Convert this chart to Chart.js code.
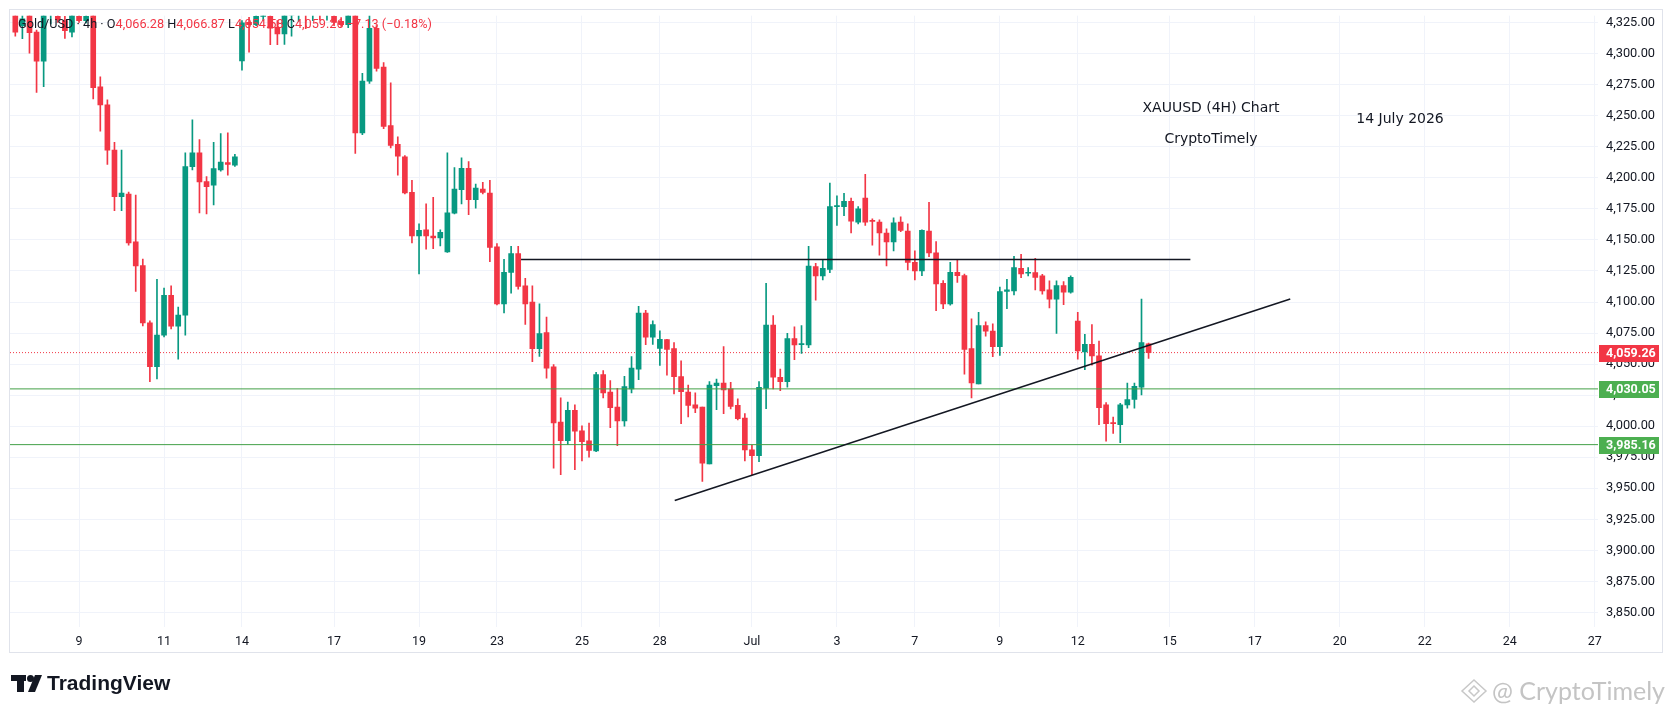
<!DOCTYPE html>
<html>
<head>
<meta charset="utf-8">
<script src="https://cdn.jsdelivr.net/npm/chart.js@4.4.1/dist/chart.umd.min.js"></script>
<style>
  html,body{margin:0;padding:0;background:#fff;}
  #wrap{width:1672px;height:714px;position:relative;}
</style>
</head>
<body>
<div id="wrap"><canvas id="c" width="1672" height="714"></canvas></div>
<script>
// ---- DATA ----
const opens = [4338,4322.6,4334,4317.3,4293.9,4336,4330,4326.6,4317.3,4330,4326.6,4336,4273.4,4258.8,4222.3,4184.8,4187,4148.4,4129.3,4083.2,
4047.9,4073.4,4105.3,4080.6,4089.4,4209.1,4220.2,4197.1,4194.1,4206.4,4212.3,4210.3,4294.1,4325.2,4323.4,4330,4330,4321.2,4316,4331,
4332,4337,4333,4336,4332,4330,4326,4323.4,4334,4236.2,4277.9,4320.5,4289.3,4242,4226.9,4217,4188.3,4153.2,4158.2,4153.2,
4151.6,4140.4,4171.6,4190.4,4207.7,4182.4,4191,4187.8,4144.4,4098.4,4123.9,4139.1,4113,4100,4062.5,4075.3,4047.9,4003.4,3988.3,4012.8,
3996.3,3988.3,3980.1,4041.5,4027.4,4015.4,4004.2,4030,4046,4091.2,4071.8,4062.7,4069.7,4062.5,4039.9,4027.4,4017.3,4015.4,3969.7,4032.7,
4034.8,4030,4016.8,4006.6,3980.9,3976.3,4030.6,4081.4,4039.4,4035.9,4070.5,4065.7,4065.4,4128.5,4121,4126.3,4176.8,4176.8,4181.1,4164.4,
4183.8,4165.7,4164.4,4155.6,4148.4,4164.4,4157.2,4131.9,4125,4157.2,4139.6,4115.1,4098.4,4123.9,4121.3,4062.5,4034,4081.1,4076.6,4064.1,
4108.5,4109,4127.1,4123.2,4123.7,4121,4109.8,4102.4,4113.3,4108,4084.6,4059.9,4065.9,4056.7,4017.2,4003,4001.3,4017.2,4021.5,4031.4,
4066.28];
const highs = [4345,4335,4338,4319,4342,4350,4334,4330,4342,4334,4336,4342,4281.4,4262.8,4228.7,4222.3,4188.6,4186.2,4134.5,4084.8,
4118.3,4111.2,4113,4096,4220.2,4246.8,4230.8,4201.1,4228.7,4235.6,4236.2,4218.9,4326.6,4329.2,4336,4342,4334,4326.6,4340,4338,
4345,4342,4342,4341,4340,4334,4329,4338,4340,4284.1,4334,4322.6,4292.8,4276.6,4233,4218,4198.1,4163,4179,4184.3,
4158.2,4220.2,4208.3,4216.2,4213.1,4195,4196.3,4198.1,4147,4134.3,4144.9,4144.9,4119.1,4113,4098.6,4087.8,4049.7,4022.8,4019.4,4017.2,
4000.3,4002.6,4043.3,4044.7,4036.7,4030.6,4040.1,4056.1,4096.6,4093.4,4084.8,4076.9,4070,4067.3,4052.7,4033.2,4026.8,4015.4,4035.9,4038,
4064.1,4035.4,4022,4010.1,3984.9,4035.9,4115.1,4089.1,4046,4074.7,4080,4081.1,4144.9,4131.1,4133.7,4195.7,4185.6,4187.5,4183.8,4176.8,
4202.9,4167,4166.2,4159,4167.8,4168.6,4163,4141.2,4158.2,4180.3,4148.7,4117.3,4131.9,4133.7,4122.6,4086.4,4091.8,4084,4082.4,4112,
4118.3,4136.9,4138.5,4127.7,4135.1,4122.3,4117,4117,4116.5,4121,4091.8,4073.9,4081.9,4068.6,4019,4007.4,4018.5,4034.8,4034.8,4102.4,
4066.87];
const lows = [4314.1,4312,4300.5,4268.9,4273.4,4324,4325.2,4312.2,4313.4,4325.2,4324.8,4263.6,4237.5,4210.9,4173.6,4173.6,4145.7,4108.5,4080.8,4035.9,
4038,4072,4078.4,4054,4073.4,4206.4,4171.8,4171,4178.2,4205.3,4202.1,4209.3,4286.7,4301.3,4322.6,4326.6,4307.2,4307.2,4307.4,4314.1,
4326,4320.2,4326.6,4327,4327,4322.6,4322,4321,4219.7,4234.8,4276,4285.9,4239.6,4224.2,4202.1,4187,4147.6,4122.6,4142.5,4143,
4145.2,4140,4171,4179,4170.4,4175.6,4187,4132.5,4097.6,4091.2,4107.2,4110.4,4081.9,4051.9,4056.1,4038.6,3966.2,3960.9,3985.3,3964.9,
3972.1,3975,3979.5,4022.8,3998.9,3984.3,4000,4026.8,4037.5,4065.7,4065.9,4049,4041,4026,4002.1,4007.4,4010.9,3955.6,3969.7,4013.3,
4010.1,4014,4005,3972.1,3960.9,3971.5,4014.1,4030,4028.7,4031.4,4053.5,4058.7,4063.3,4101.4,4117.8,4123.7,4161.7,4169.6,4155.6,4163,
4161.7,4145.7,4137.7,4129,4141.2,4156.6,4125.8,4117.8,4121.3,4136.5,4093,4094.6,4097.4,4115.7,4042,4022.8,4034,4072.6,4055.9,4057.1,
4094.6,4105.8,4119.7,4121,4109.8,4106.4,4095.2,4074.7,4097.8,4107.2,4054,4045.5,4049.2,4001.3,3988,3994.1,3986.7,4014.6,4014.6,4025.2,
4054.58];
const closes = [4317.3,4328,4317,4293.9,4336,4341,4327.4,4318.6,4337,4326.6,4330,4272.6,4258.8,4222.3,4184.8,4187.8,4147.6,4129,4083.2,4047.9,
4073.4,4105.3,4080.6,4089.4,4209.1,4220.2,4196.8,4192.8,4207.5,4212.7,4210.9,4217,4324.8,4323.4,4330,4336,4320.5,4316,4334,4332,
4337,4333,4336,4332,4335,4325.2,4323.4,4332,4236.2,4277.9,4320.5,4288.1,4241.5,4226.1,4217.5,4187.8,4153.2,4157.7,4153.2,4151.6,
4156.1,4171.8,4191,4207.7,4182.4,4191.8,4188.3,4143.9,4098.4,4123.9,4139.1,4112.5,4098.4,4062.5,4074.5,4046.8,4002.6,3988.3,4012.8,3996,
3987.5,3980.6,4041.5,4026.8,4014.9,4004.2,4031.9,4046.8,4091.2,4071.8,4081.9,4069.9,4061.9,4039.9,4027.9,4016.8,4014.6,3970.2,4033.2,4034.8,
4029.2,4015.9,4006.1,3980.9,3976.3,4031.4,4081.4,4039.4,4035.9,4070.5,4065.4,4066.5,4129,4121,4127.1,4176.8,4177.6,4181.1,4165.2,4175,
4164.4,4164.9,4155.6,4148.4,4163.8,4157.7,4131.9,4125,4157.7,4139.6,4114.6,4098.4,4123.9,4121.3,4061.9,4034.8,4081.1,4076.6,4064.1,4108.5,
4109.8,4127.7,4122.6,4124,4119.9,4109,4102.4,4113.3,4108,4119.9,4060.6,4065.9,4056.7,4014.9,4002.1,4002,4017.2,4021.5,4032.2,4067.3,
4059.26];

// x-axis (candle index) tick positions and their labels
const tickIdx = [9,21,32,45,57,68,80,91,104,116,127,139,150,163,175,187,199,211,223];
const tickLabels = ['9','11','14','17','19','23','25','28','Jul','3','7','9','12','15','17','20','22','24','27'];
// y-axis tick values
const yTickValues = [3850,3875,3900,3925,3950,3975,4000,4025,4050,4075,4100,4125,4150,4175,4200,4225,4250,4275,4300,4325];

// drawn levels / lines
const currentPrice = 4059.26;
const supportLevels = [4030.05, 3985.16];
const resistanceLine = [{x:71.4, y:4134.3},{x:165.9, y:4134.3}];
const trendLine = [{x:93.1, y:3940.2},{x:180.0, y:4102.4}];

const X_MIN = -0.75, X_MAX = 223.45, Y_MIN = 3838.3, Y_MAX = 4330.6;

const UP = '#089981', DOWN = '#f23645', LEVEL = '#43a047';

const idx = opens.map((_, i) => i);
const wickData = idx.map(i => ({x: i, y: [lows[i], highs[i]]}));
const bodyData = idx.map(i => ({x: i, y: [opens[i], closes[i]]}));
const candleColor = idx.map(i => closes[i] >= opens[i] ? UP : DOWN);

const fmt = v => v.toLocaleString('en-US', {minimumFractionDigits: 2, maximumFractionDigits: 2});

const overlay = {
  id: 'overlay',
  afterDraw(chart) {
    const ctx = chart.ctx;
    const ys = chart.scales.y;
    const ca = chart.chartArea;
    ctx.save();
    // outer frame
    ctx.strokeStyle = '#e0e3eb';
    ctx.lineWidth = 1;
    ctx.strokeRect(9.5, 9.5, 1653, 643);

    // legend line
    ctx.textBaseline = 'middle';
    ctx.font = '12.7px Roboto';
    let x = 18;
    const y0 = 24.5;
    const parts = [
      ['Gold/USD \u00b7 4h \u00b7 ', '#131722'], ['O', '#131722'], ['4,066.28', DOWN],
      [' H', '#131722'], ['4,066.87', DOWN], [' L', '#131722'], ['4,054.58', DOWN],
      [' C', '#131722'], ['4,059.26', DOWN], [' \u22127.13 (\u22120.18%)', DOWN]
    ];
    for (const [t, c] of parts) {
      ctx.fillStyle = c;
      ctx.textAlign = 'left';
      ctx.fillText(t, x, y0);
      x += ctx.measureText(t).width;
    }

    // annotations
    ctx.fillStyle = '#131722';
    ctx.font = '14px "DejaVu Sans"';
    ctx.textAlign = 'center';
    ctx.fillText('XAUUSD (4H) Chart', 1211, 108);
    ctx.fillText('CryptoTimely', 1211, 139);
    ctx.fillText('14 July 2026', 1400, 119);

    // price labels on axis
    const boxes = [[currentPrice, DOWN], [supportLevels[0], '#4caf50'], [supportLevels[1], '#4caf50']];
    ctx.font = 'bold 12.5px Roboto';
    for (const [v, c] of boxes) {
      const py = Math.round(ys.getPixelForValue(v));
      ctx.fillStyle = c;
      ctx.fillRect(ca.right + 1, py - 8, 60, 17);
      ctx.fillStyle = '#ffffff';
      ctx.textAlign = 'left';
      ctx.fillText(fmt(v), ca.right + 8, py + 0.5);
    }

    // TradingView logo
    ctx.fillStyle = '#131722';
    ctx.fillRect(11, 675, 15, 6);
    ctx.fillRect(17, 675, 7, 17);
    ctx.beginPath(); ctx.arc(30.5, 678.5, 3.5, 0, Math.PI * 2); ctx.fill();
    ctx.beginPath();
    ctx.moveTo(35, 675); ctx.lineTo(42, 675); ctx.lineTo(35, 692); ctx.lineTo(28, 692); ctx.closePath(); ctx.fill();
    ctx.font = 'bold 21px "Liberation Sans"';
    ctx.textAlign = 'left';
    ctx.fillText('TradingView', 47, 684);

    // watermark
    ctx.strokeStyle = '#c8c8c8';
    ctx.lineWidth = 1.5;
    ctx.beginPath();
    ctx.moveTo(1474, 680); ctx.lineTo(1486, 691); ctx.lineTo(1474, 702); ctx.lineTo(1462, 691); ctx.closePath(); ctx.stroke();
    ctx.beginPath();
    ctx.moveTo(1474, 686); ctx.lineTo(1479, 691); ctx.lineTo(1474, 696); ctx.lineTo(1469, 691); ctx.closePath(); ctx.stroke();
    ctx.fillStyle = '#c4c4c4';
    ctx.font = '25px Lato';
    ctx.fillText('@ CryptoTimely', 1492, 692);
    ctx.restore();
  }
};

new Chart(document.getElementById('c'), {
  data: {
    datasets: [
      { type: 'line', label: 'trend', data: trendLine, borderColor: '#131722', borderWidth: 1.5, pointRadius: 0, order: 0 },
      { type: 'line', label: 'resistance', data: resistanceLine, borderColor: '#131722', borderWidth: 1.5, pointRadius: 0, order: 0 },
      { type: 'line', label: 'level1', data: [{x: X_MIN, y: supportLevels[0]}, {x: X_MAX, y: supportLevels[0]}], borderColor: LEVEL, borderWidth: 1, pointRadius: 0, order: 0 },
      { type: 'line', label: 'level2', data: [{x: X_MIN, y: supportLevels[1]}, {x: X_MAX, y: supportLevels[1]}], borderColor: LEVEL, borderWidth: 1, pointRadius: 0, order: 0 },
      { type: 'line', label: 'price', data: [{x: X_MIN, y: currentPrice}, {x: X_MAX, y: currentPrice}], borderColor: DOWN, borderWidth: 1, borderDash: [1, 2], pointRadius: 0, order: 3 },
      { type: 'bar', label: 'body', data: bodyData, backgroundColor: candleColor, borderWidth: 0, barThickness: 5, grouped: false, minBarLength: 1, order: 1 },
      { type: 'bar', label: 'wick', data: wickData, backgroundColor: candleColor, borderWidth: 0, barThickness: 1, grouped: false, order: 2 }
    ]
  },
  options: {
    responsive: false,
    animation: false,
    devicePixelRatio: 1,
    layout: { padding: { left: 10, top: 10, right: 10, bottom: 62 } },
    plugins: { legend: { display: false }, tooltip: { enabled: false } },
    scales: {
      x: {
        type: 'linear', min: X_MIN, max: X_MAX, offset: false,
        afterBuildTicks: s => { s.ticks = tickIdx.map(v => ({ value: v })); },
        afterFit: s => { s.height = 25; },
        ticks: { callback: (v, i) => tickLabels[i], autoSkip: false, maxRotation: 0, padding: 7, color: '#131722', font: { size: 12.5, family: 'Roboto' } },
        grid: { color: '#f0f3fa', drawTicks: false, offset: false },
        border: { display: false }
      },
      y: {
        type: 'linear', position: 'right', min: Y_MIN, max: Y_MAX,
        afterBuildTicks: s => { s.ticks = yTickValues.map(v => ({ value: v })); },
        afterFit: s => { s.width = 64; },
        ticks: { callback: v => fmt(v), padding: 8, color: '#131722', font: { size: 12.8, family: 'Roboto' } },
        grid: { color: '#f0f3fa', drawTicks: false },
        border: { display: false }
      }
    }
  },
  plugins: [overlay]
});
</script>
</body>
</html>
